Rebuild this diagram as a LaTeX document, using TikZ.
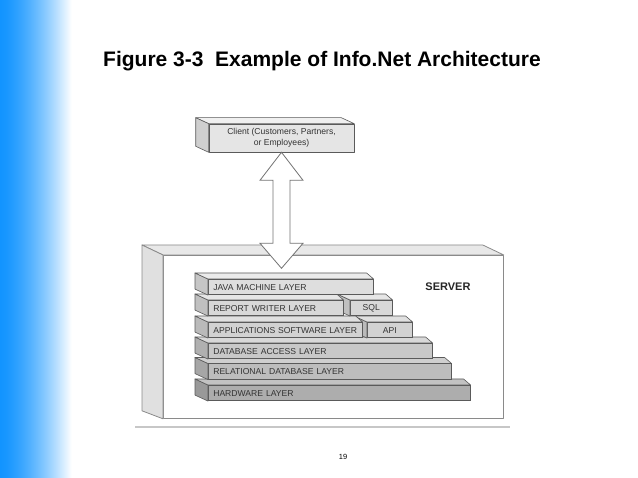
\documentclass[tikz,border=0pt]{standalone}
\usepackage{fontspec}
\setmainfont{Liberation Sans}
\usetikzlibrary{calc}
\definecolor{sbBlue}{RGB}{18,148,255}
\definecolor{edge}{HTML}{5A5A5A}
\definecolor{txt}{HTML}{333333}
\definecolor{srvedge}{HTML}{8A8A8A}
\definecolor{fr1}{HTML}{DEDEDE}\definecolor{tp1}{HTML}{EBEBEB}\definecolor{sd1}{HTML}{C6C6C6}
\definecolor{fr2}{HTML}{D8D8D8}\definecolor{tp2}{HTML}{E6E6E6}\definecolor{sd2}{HTML}{C0C0C0}
\definecolor{fr3}{HTML}{D2D2D2}\definecolor{tp3}{HTML}{E0E0E0}\definecolor{sd3}{HTML}{BABABA}
\definecolor{fr4}{HTML}{C8C8C8}\definecolor{tp4}{HTML}{D8D8D8}\definecolor{sd4}{HTML}{B0B0B0}
\definecolor{fr5}{HTML}{BDBDBD}\definecolor{tp5}{HTML}{CFCFCF}\definecolor{sd5}{HTML}{A6A6A6}
\definecolor{fr6}{HTML}{ADADAD}\definecolor{tp6}{HTML}{C2C2C2}\definecolor{sd6}{HTML}{999999}
\tikzset{
  layerbox/.style={draw=edge, line width=0.6pt, inner xsep=5pt, inner ysep=0pt,
    minimum height=15.5pt, anchor=north west, text=txt,
    font=\fontsize{8.6}{10}\selectfont},
  facet/.style={draw=edge, line width=0.6pt, line join=round},
  srvfacet/.style={draw=srvedge, line width=0.8pt, line join=round},
  arrowbody/.style={draw=black!55, fill=white, line width=0.8pt, line join=miter}
}
\begin{document}
\begin{tikzpicture}[x=1pt,y=-1pt]
\useasboundingbox (0,0) rectangle (638,478);
% side gradient bar
\foreach \i in {0,...,79}{
  \pgfmathsetmacro\p{max(0,100*(1-((\i+0.5)/72)^1.5))}
  \fill[sbBlue!\p!white] (\i,0) rectangle (\i+1.05,478);
}
% title
\node[anchor=base west, inner sep=0, font=\fontsize{21}{25}\selectfont\bfseries] (title) at (103,67)
  {Figure 3-3\ \ Example of Info.Net Architecture};
% server box
\node[srvfacet, fill=white, anchor=north west, minimum width=340pt, minimum height=163pt, inner sep=0] (server) at (163,255) {};
\filldraw[srvfacet, fill=black!9] (server.north west) -- ++(-21,-10) -- ($(server.north east)+(-21,-10)$) -- (server.north east) -- cycle;
\filldraw[srvfacet, fill=black!12] (server.north west) -- ++(-21,-10) -- ($(server.south west)+(-21,-8)$) -- (server.south west) -- cycle;
\node[font=\fontsize{11}{13}\selectfont\bfseries, text=black!85] (srvlabel) at (448,287) {SERVER};
% bottom rule
\draw[line width=1.6pt, black!22] (135,427) -- (510,427);
% client box
\node[facet, fill=black!10, minimum width=145pt, minimum height=28pt, inner sep=0, align=center,
  text=txt, font=\fontsize{8.6}{11}\selectfont] (client) at (281.5,138)
  {Client (Customers, Partners,\\or Employees)};
\filldraw[facet, fill=black!6] (client.north west) -- ++(-13,-6) -- ($(client.north east)+(-13,-6)$) -- (client.north east) -- cycle;
\filldraw[facet, fill=black!19] (client.north west) -- ++(-13,-6) -- ($(client.south west)+(-13,-6)$) -- (client.south west) -- cycle;
% layers
\foreach \n/\x/\y/\w/\t/\c/\a in {
  hw/208/385/262/HARDWARE LAYER/6/left,
  rel/208/363.5/243/RELATIONAL DATABASE LAYER/5/left,
  db/208/343/224/DATABASE ACCESS LAYER/4/left,
  api/367/322/45/API/3/center,
  apps/208/322/154/APPLICATIONS SOFTWARE LAYER/3/left,
  sql/350/300/42/SQL/2/center,
  report/208/300/135/REPORT WRITER LAYER/2/left,
  java/208/279/165/JAVA MACHINE LAYER/1/left}{
  \pgfmathsetmacro\tw{\w-10}
  \node[layerbox, fill=fr\c, text width=\tw pt, align=\a] (\n) at (\x,\y) {\t};
  \filldraw[facet, fill=sd\c] (\n.north west) -- ++(-13,-6) -- ($(\n.south west)+(-13,-6)$) -- (\n.south west) -- cycle;
  \filldraw[facet, fill=tp\c] (\n.north west) -- ++(-13,-6) -- ($(\n.north east)+(-7,-6)$) -- (\n.north east) -- cycle;
}
% double arrow between client and server
\coordinate (atip) at ($(client.south)+(0,116)$);
\filldraw[arrowbody] (client.south) -- ++(-21.5,28) -- ++(13,0) -- ++(0,63) -- ++(-13,0)
  -- (atip) -- ++(21.5,-25) -- ++(-13,0) -- ++(0,-63) -- ++(13,0) -- cycle;
% page number
\node[font=\fontsize{7.5}{9}\selectfont] (pagenum) at (343,457) {19};
\end{tikzpicture}
\end{document}
